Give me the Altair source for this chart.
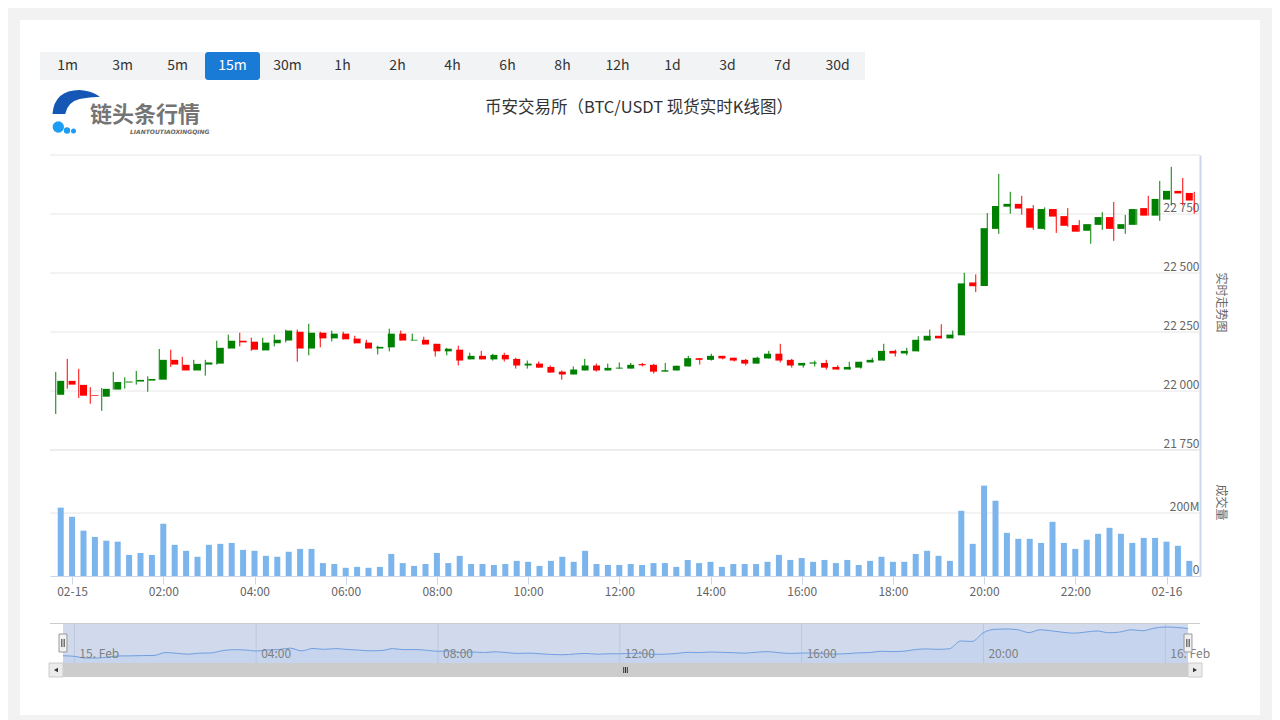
import altair as alt
import pandas as pd

FONT = "Noto Sans CJK SC, Noto Sans, sans-serif"

# ---------------- data ----------------
opens = [21984, 22043, 22026, 21983, 21976, 22006, 22036, 22040, 22044, 22048,
         22132, 22111, 22087, 22112, 22116, 22180, 22213, 22209, 22172, 22202,
         22214, 22251, 22180, 22247, 22223, 22243, 22222, 22205, 22180, 22185,
         22243, 22214, 22217, 22200, 22168, 22175, 22134, 22149, 22134, 22153,
         22136, 22108, 22116, 22102, 22082, 22070, 22087, 22108, 22087, 22095,
         22095, 22114, 22111, 22082, 22087, 22104, 22139, 22132, 22149, 22141,
         22132, 22116, 22138, 22158, 22132, 22108, 22116, 22119, 22102, 22091,
         22099, 22121, 22129, 22170, 22159, 22168, 22214, 22234, 22223, 22236,
         22460, 22445, 22687, 22781, 22793, 22774, 22687, 22771, 22741, 22703,
         22679, 22704, 22737, 22687, 22704, 22775, 22743, 22811, 22848, 22839]
highs = [22081, 22136, 22094, 22016, 22013, 22081, 22058, 22085, 22062, 22178,
         22175, 22145, 22132, 22132, 22213, 22239, 22247, 22226, 22226, 22239,
         22260, 22260, 22285, 22251, 22256, 22251, 22234, 22217, 22192, 22264,
         22256, 22243, 22230, 22200, 22183, 22192, 22162, 22170, 22158, 22162,
         22141, 22129, 22125, 22108, 22087, 22104, 22136, 22116, 22116, 22121,
         22119, 22119, 22115, 22119, 22107, 22149, 22139, 22158, 22149, 22141,
         22136, 22145, 22170, 22200, 22136, 22119, 22129, 22132, 22109, 22124,
         22124, 22141, 22200, 22175, 22183, 22232, 22260, 22283, 22256, 22501,
         22494, 22754, 22920, 22844, 22827, 22788, 22778, 22771, 22775, 22724,
         22707, 22758, 22801, 22746, 22771, 22827, 22890, 22950, 22903, 22844]
lows = [21903, 22010, 21970, 21946, 21916, 22006, 22010, 22027, 21997, 22048,
        22102, 22087, 22087, 22065, 22112, 22180, 22189, 22170, 22172, 22189,
        22206, 22124, 22151, 22185, 22210, 22219, 22202, 22180, 22155, 22168,
        22214, 22214, 22197, 22146, 22151, 22108, 22134, 22134, 22129, 22125,
        22095, 22095, 22099, 22078, 22048, 22070, 22087, 22082, 22087, 22095,
        22095, 22104, 22074, 22082, 22087, 22104, 22112, 22129, 22134, 22125,
        22108, 22116, 22138, 22121, 22099, 22099, 22104, 22091, 22091, 22091,
        22095, 22121, 22129, 22146, 22151, 22168, 22214, 22223, 22223, 22236,
        22419, 22445, 22666, 22751, 22747, 22683, 22683, 22670, 22696, 22675,
        22624, 22683, 22636, 22666, 22704, 22743, 22721, 22786, 22786, 22751]
closes = [22043, 22027, 21980, 21980, 22009, 22038, 22040, 22047, 22051, 22132,
          22112, 22087, 22115, 22121, 22183, 22213, 22206, 22175, 22205, 22217,
          22256, 22180, 22247, 22223, 22243, 22219, 22202, 22180, 22187, 22243,
          22214, 22217, 22197, 22168, 22179, 22129, 22149, 22134, 22153, 22134,
          22108, 22116, 22099, 22078, 22070, 22091, 22108, 22087, 22098, 22099,
          22111, 22109, 22082, 22088, 22107, 22139, 22132, 22149, 22138, 22129,
          22116, 22141, 22158, 22129, 22108, 22119, 22121, 22099, 22091, 22102,
          22124, 22132, 22170, 22159, 22170, 22217, 22234, 22223, 22239, 22456,
          22444, 22690, 22784, 22793, 22773, 22692, 22771, 22739, 22700, 22675,
          22707, 22737, 22687, 22707, 22771, 22743, 22814, 22848, 22837, 22807]
volumes_m = [217, 188, 144, 124, 112, 109, 67, 73, 67, 166,
             99, 80, 61, 99, 102, 105, 83, 80, 64, 61,
             77, 86, 86, 41, 38, 26, 29, 26, 29, 70,
             41, 32, 38, 73, 41, 64, 38, 38, 35, 38,
             48, 45, 32, 48, 61, 45, 80, 38, 35, 35,
             38, 35, 41, 41, 29, 51, 41, 45, 29, 38,
             38, 38, 45, 67, 51, 57, 45, 51, 41, 51,
             35, 48, 61, 45, 45, 70, 80, 64, 48, 207,
             102, 287, 239, 137, 118, 118, 105, 172, 105, 86,
             115, 134, 153, 134, 105, 121, 121, 109, 96, 48]

buttons = ["1m", "3m", "5m", "15m", "30m", "1h", "2h", "4h", "6h", "8h",
           "12h", "1d", "3d", "7d", "30d"]
selected_button = "15m"
x_tick_minutes = [0, 120, 240, 360, 480, 600, 720, 840, 960, 1080, 1200, 1320, 1440]
x_tick_labels = ["02-15", "02:00", "04:00", "06:00", "08:00", "10:00", "12:00",
                 "14:00", "16:00", "18:00", "20:00", "22:00", "02-16"]
nav_tick_minutes = [0, 240, 480, 720, 960, 1200, 1440]
nav_tick_labels = ["15. Feb", "04:00", "08:00", "12:00", "16:00", "20:00", "16. Feb"]
price_ticks = [21750, 22000, 22250, 22500, 22750, 23000]
volume_ticks = [0, 200e6, 400e6]
title_text = "币安交易所（BTC/USDT 现货实时K线图）"

# minutes after 02-15 00:00, one candle every 15 minutes starting 02-14 23:45
minutes = [-15 + 15 * i for i in range(len(opens))]
X_DOMAIN = [-22.5, 1477.5]
NAV_LO, NAV_HI = 21840, 22960

df = pd.DataFrame({"t": minutes, "o": opens, "h": highs, "l": lows, "c": closes,
                   "v": [v * 1e6 for v in volumes_m]})
df["dir"] = ["up" if c >= o else "down" for o, c in zip(opens, closes)]
df["nlo"] = NAV_LO

btn_df = pd.DataFrame({"label": buttons})
price_grid_df = pd.DataFrame({"p": price_ticks, "x0": X_DOMAIN[0], "x1": X_DOMAIN[1]})
vol_grid_df = pd.DataFrame({"v": [t for t in volume_ticks if t > 0],
                            "x0": X_DOMAIN[0], "x1": X_DOMAIN[1]})
nav_ticks_df = pd.DataFrame({"t": nav_tick_minutes, "label": nav_tick_labels,
                             "lo": NAV_LO, "hi": NAV_HI})
nav_range_df = pd.DataFrame({"t0": [minutes[0]], "t1": [minutes[-1]],
                             "lo": [NAV_LO], "hi": [NAV_HI]})
handles_df = pd.DataFrame({"t": [minutes[0], minutes[-1]]})
one = pd.DataFrame({"a": [0]})


# ---------------- scales ----------------
def xs():
    return alt.Scale(domain=X_DOMAIN, range=[30, 1180], nice=False, zero=False)


def ysp():
    return alt.Scale(domain=[21750, 23000], range=[430, 135], nice=False, zero=False)


def ysv():
    return alt.Scale(domain=[0, 400e6], range=[556, 430], nice=False)


def xn():
    return alt.Scale(domain=[minutes[0], minutes[-1]], range=[43, 1168], nice=False, zero=False)


def yn():
    return alt.Scale(domain=[NAV_LO, NAV_HI], range=[643, 603], nice=False, zero=False)


color_enc = alt.Color("dir:N", scale=alt.Scale(domain=["up", "down"],
                                               range=["#008000", "#ff0000"]), legend=None)

price_axis = alt.Axis(orient="right", offset=-60, values=price_ticks,
                      labelExpr="datum.value >= 23000 ? '' : replace(format(datum.value, ','), ',', ' ')",
                      labelAlign="right", labelBaseline="alphabetic", labelOffset=-3,
                      labelPadding=-1, ticks=False, tickSize=0, grid=False,
                      domainColor="#ccd6eb", domainWidth=2,
                      labelColor="#666666", labelFontSize=12, labelOverlap=False,
                      labelFlush=False,
                      title="实时走势图", titleAngle=90, titleColor="#666666",
                      titleFontSize=12, titleFontWeight="normal", titleX=20, titleY=282,
                      titleAlign="center", titleBaseline="middle")

vol_axis = alt.Axis(orient="right", offset=-60, values=volume_ticks,
                    labelExpr="datum.value == 0 ? '0' : (datum.value == 200000000 ? '200M' : '')",
                    labelAlign="right", labelBaseline="alphabetic", labelOffset=-3,
                    labelPadding=-1, ticks=False, tickSize=0, grid=False,
                    domainColor="#ccd6eb", domainWidth=2,
                    labelColor="#666666", labelFontSize=12, labelOverlap=False,
                    labelFlush=False,
                    title="成交量", titleAngle=90, titleColor="#666666",
                    titleFontSize=12, titleFontWeight="normal", titleX=20, titleY=482,
                    titleAlign="center", titleBaseline="middle")

label_array = "[" + ",".join("'%s'" % s for s in x_tick_labels) + "]"
x_axis = alt.Axis(orient="bottom", offset=-139, values=x_tick_minutes,
                  labelExpr=label_array + "[round(datum.value / 120)]",
                  domainColor="#ccd6eb", tickColor="#ccd6eb", tickSize=8,
                  labelPadding=2, labelColor="#666666", labelFontSize=12,
                  grid=False, title=None, labelFlush=False, labelOverlap=False)

layers = []

# ---------------- header: range buttons ----------------
btn_scale = alt.Scale(domain=buttons, range=[20, 845], paddingInner=0, paddingOuter=0)
layers.append(alt.Chart(btn_df).mark_rect(color="#f2f3f5").encode(
    x=alt.X("label:N", scale=btn_scale, axis=None, sort=buttons),
    y=alt.value(32), y2=alt.value(60)))
layers.append(alt.Chart(btn_df).transform_filter(alt.datum.label == selected_button)
              .mark_rect(color="#1a7bd6", cornerRadius=3).encode(
    x=alt.X("label:N", scale=btn_scale, axis=None, sort=buttons),
    y=alt.value(32), y2=alt.value(60)))
layers.append(alt.Chart(btn_df).mark_text(fontSize=14, baseline="middle", font=FONT).encode(
    x=alt.X("label:N", scale=btn_scale, axis=None, sort=buttons),
    y=alt.value(46), text="label:N",
    color=alt.condition(alt.datum.label == selected_button, alt.value("white"), alt.value("#333333"))))

# ---------------- logo ----------------
crescent = ("M-0.98,0.5 Q-0.9,-0.5 0.15,-0.5 Q0.65,-0.47 1,-0.22 "
            "Q0.55,-0.2 0.15,-0.12 Q-0.35,0.0 -0.45,0.5 Z")
layers.append(alt.Chart(one).mark_point(shape=crescent, size=2304, filled=True,
                                        color="#1557b5", opacity=1).encode(
    x=alt.value(56), y=alt.value(82)))
logo_dots = pd.DataFrame({"px": [38.3, 47, 53.5], "py": [107, 110.5, 111],
                          "s": [130, 41, 25]})
for i in range(3):
    layers.append(alt.Chart(one).mark_circle(size=float(logo_dots.s[i]), color="#1e9df2",
                                             opacity=1).encode(
        x=alt.value(float(logo_dots.px[i])), y=alt.value(float(logo_dots.py[i]))))
layers.append(alt.Chart(one).mark_text(text="链头条行情", fontSize=22, fontWeight="bold",
                                       color="#747474", align="left", baseline="middle",
                                       font=FONT).encode(
    x=alt.value(70), y=alt.value(95)))
layers.append(alt.Chart(one).mark_text(text="LIANTOUTIAOXINGQING", fontSize=6,
                                       fontWeight="bold", fontStyle="italic",
                                       color="#666666", align="left", baseline="middle",
                                       font="DejaVu Sans").encode(
    x=alt.value(110), y=alt.value(111.5)))

# ---------------- title ----------------
layers.append(alt.Chart(one).mark_text(text=title_text, fontSize=16.5, color="#333333",
                                       baseline="middle", font=FONT).encode(
    x=alt.value(619), y=alt.value(88)))

# ---------------- grids ----------------
layers.append(alt.Chart(price_grid_df).mark_rule(color="#e6e6e6", strokeWidth=1).encode(
    x=alt.X("x0:Q", scale=xs(), axis=None), x2="x1:Q",
    y=alt.Y("p:Q", scale=ysp(), axis=None)))
layers.append(alt.Chart(vol_grid_df).mark_rule(color="#e6e6e6", strokeWidth=1).encode(
    x=alt.X("x0:Q", scale=xs(), axis=None), x2="x1:Q",
    y=alt.Y("v:Q", scale=ysv(), axis=None)))

# ---------------- price candles ----------------
layers.append(alt.Chart(df).mark_rule(strokeWidth=1).encode(
    x=alt.X("t:Q", scale=xs(), axis=None),
    y=alt.Y("l:Q", scale=ysp(), axis=price_axis),
    y2="h:Q", color=color_enc))
layers.append(alt.Chart(df).mark_bar(size=7).encode(
    x=alt.X("t:Q", scale=xs(), axis=None),
    y=alt.Y("o:Q", scale=ysp(), axis=None),
    y2="c:Q", color=color_enc))

# ---------------- volume ----------------
layers.append(alt.Chart(df).mark_bar(size=6, color="#7cb5ec").encode(
    x=alt.X("t:Q", scale=xs(), axis=x_axis),
    y=alt.Y("v:Q", scale=ysv(), axis=vol_axis)))

# ---------------- navigator ----------------
layers.append(alt.Chart(nav_ticks_df).mark_rule(color="#e6e6e6", strokeWidth=1).encode(
    x=alt.X("t:Q", scale=xn(), axis=None),
    y=alt.Y("lo:Q", scale=yn(), axis=None), y2="hi:Q"))
layers.append(alt.Chart(nav_range_df).mark_rect(color="#6685c2", opacity=0.3).encode(
    x=alt.X("t0:Q", scale=xn(), axis=None), x2="t1:Q",
    y=alt.Y("lo:Q", scale=yn(), axis=None), y2="hi:Q"))
layers.append(alt.Chart(df).mark_area(color="#7cb5ec", opacity=0.12, interpolate="monotone").encode(
    x=alt.X("t:Q", scale=xn(), axis=None),
    y=alt.Y("c:Q", scale=yn(), axis=None), y2="nlo:Q"))
layers.append(alt.Chart(df).mark_line(color="#6f9fe0", strokeWidth=1, interpolate="monotone").encode(
    x=alt.X("t:Q", scale=xn(), axis=None),
    y=alt.Y("c:Q", scale=yn(), axis=None)))
layers.append(alt.Chart(nav_ticks_df).mark_text(align="left", dx=5, baseline="alphabetic",
                                                fontSize=12, color="#808080", font=FONT).encode(
    x=alt.X("t:Q", scale=xn(), axis=None), y=alt.value(638), text="label:N"))
layers.append(alt.Chart(one).mark_rule(color="#cccccc", strokeWidth=1).encode(
    x=alt.value(30), x2=alt.value(1180), y=alt.value(603.5)))

# handles
handle_box = "M-0.44,-1L0.44,-1L0.44,1L-0.44,1Z"
handle_grip = "M-0.13,-0.45L-0.13,0.45M0.13,-0.45L0.13,0.45"
layers.append(alt.Chart(handles_df).mark_point(shape=handle_box, size=324, filled=True,
                                               fill="#f2f2f2", stroke="#999999",
                                               strokeWidth=1, opacity=1).encode(
    x=alt.X("t:Q", scale=xn(), axis=None), y=alt.value(623)))
layers.append(alt.Chart(handles_df).mark_point(shape=handle_grip, size=324, filled=False,
                                               stroke="#333333", strokeWidth=1, opacity=1).encode(
    x=alt.X("t:Q", scale=xn(), axis=None), y=alt.value(623)))

# ---------------- scrollbar ----------------
layers.append(alt.Chart(nav_range_df).mark_rect(color="#cccccc").encode(
    x=alt.X("t0:Q", scale=xn(), axis=None), x2="t1:Q",
    y=alt.value(643), y2=alt.value(657)))
for x0, x1 in [(29, 43), (1168, 1182)]:
    layers.append(alt.Chart(one).mark_rect(fill="#ebebeb", stroke="#cccccc", strokeWidth=1).encode(
        x=alt.value(x0), x2=alt.value(x1), y=alt.value(643), y2=alt.value(657)))
layers.append(alt.Chart(one).mark_point(shape="triangle-left", size=22, filled=True,
                                        color="#333333", opacity=1).encode(
    x=alt.value(36), y=alt.value(650)))
layers.append(alt.Chart(one).mark_point(shape="triangle-right", size=22, filled=True,
                                        color="#333333", opacity=1).encode(
    x=alt.value(1175), y=alt.value(650)))
layers.append(alt.Chart(one).mark_point(shape="M-0.6,-1L-0.6,1M0,-1L0,1M0.6,-1L0.6,1",
                                        size=36, filled=False, stroke="#333333",
                                        strokeWidth=1, opacity=1).encode(
    x=alt.value(605.5), y=alt.value(650)))

chart = (alt.layer(*layers)
         .resolve_scale(x="independent", y="independent", color="independent")
         .properties(width=1240, height=695,
                     padding={"left": 12, "top": 12, "right": 12, "bottom": 5})
         .configure(background="#f2f2f2", font=FONT)
         .configure_view(fill="white", strokeWidth=0))

chart.save("out.html", embed_options={"renderer": "svg", "actions": False})
